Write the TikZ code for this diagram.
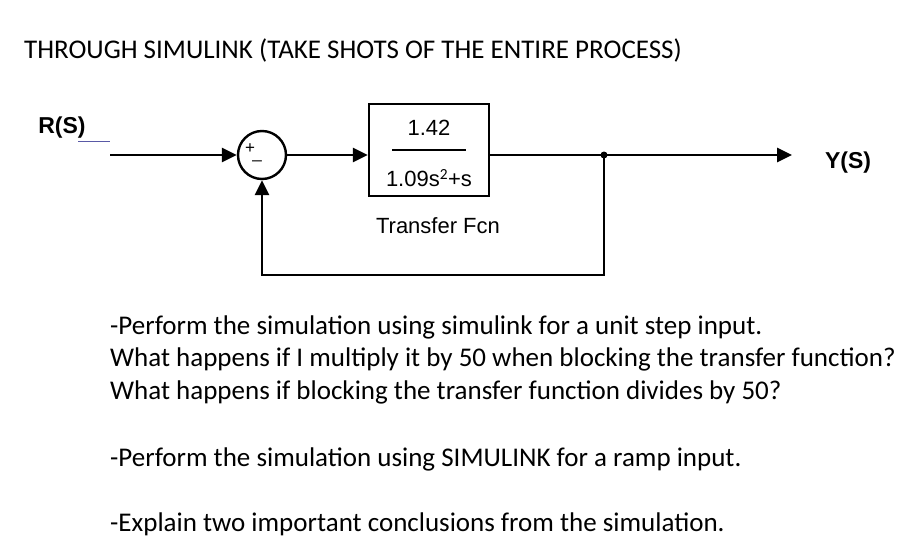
\documentclass[tikz,border=0pt]{standalone}
\usepackage{fontspec}
\setmainfont{Carlito}
\newfontfamily\arial{Liberation Sans}
\usetikzlibrary{arrows.meta}
\begin{document}
\begin{tikzpicture}[x=1pt,y=-1pt,
  wire/.style={line width=2.8pt},
  arr/.style={wire,-{Triangle[length=15pt,width=14pt]}},
  txt/.style={anchor=west,inner sep=0,font=\fontsize{27}{30}\selectfont},
  lab/.style={inner sep=0,font=\arial\fontsize{22}{24}\selectfont}]
\useasboundingbox (0,0) rectangle (906,554);
\node[txt] (title) at (24,50) {THROUGH SIMULINK (TAKE SHOTS OF THE ENTIRE PROCESS)};
\node[lab,font=\arial\bfseries\fontsize{23}{26}\selectfont] (r) at (62,128) {R(S)};
\draw[color=blue!30!gray,line width=1pt] (78,141) -- (110,141);
\coordinate (rin) at (110,155);
\node[draw,circle,line width=2.4pt,minimum size=48pt,inner sep=0] (sum) at (262,155) {};
\node[inner sep=0,font=\arial\fontsize{17}{17}\selectfont] (pl) at (250,149) {+};
\node[inner sep=0,font=\arial\fontsize{17}{17}\selectfont] (mi) at (257,160) {\_};
\node[draw,line width=2.4pt,minimum width=120pt,minimum height=92pt,inner sep=0] (tf) at (429,150) {};
\node[lab] (num) at (429,128) {1.42};
\draw[line width=2pt] (392,150) -- (466,150);
\node[lab] (den) at (429,178) {1.09s$^{\mathrm{2}}$+s};
\node[lab] (tfl) at (438,226) {Transfer Fcn};
\coordinate (j) at (604,155);
\coordinate (yout) at (792,155);
\coordinate (fb1) at (604,275);
\coordinate (fb2) at (262,275);
\node[lab,font=\arial\bfseries\fontsize{23}{26}\selectfont] (y) at (848,163) {Y(S)};
\draw[arr] (rin) -- (sum.west);
\draw[arr] (sum.east) -- (tf.west |- sum.east);
\draw[arr] (tf.east |- j) -- (yout);
\fill (j) circle (3.5pt);
\draw[arr] (j) -- (fb1) -- (fb2) -- (sum.south);
\node[txt] (l1) at (110,327) {-Perform the simulation using simulink for a unit step input.};
\node[txt] (l2) at (110,359) {What happens if I multiply it by 50 when blocking the transfer function?};
\node[txt] (l3) at (110,392) {What happens if blocking the transfer function divides by 50?};
\node[txt] (l4) at (110,459) {-Perform the simulation using SIMULINK for a ramp input.};
\node[txt] (l5) at (110,524) {-Explain two important conclusions from the simulation.};
\end{tikzpicture}
\end{document}
